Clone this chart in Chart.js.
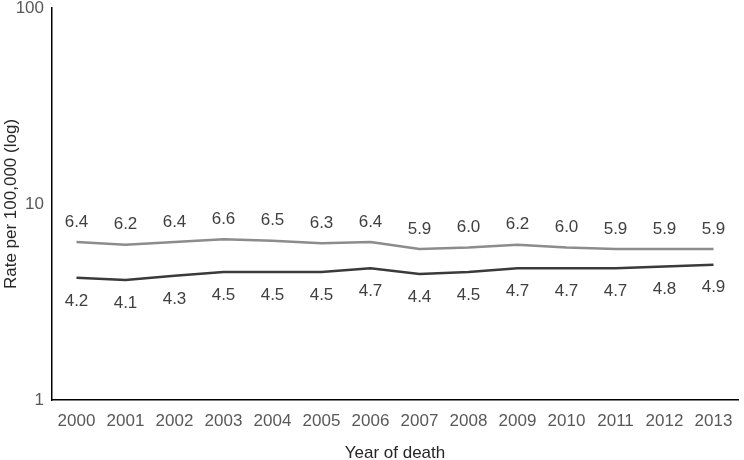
<!DOCTYPE html>
<html>
<head>
<meta charset="utf-8">
<script src="https://cdn.jsdelivr.net/npm/chart.js@4"></script>
<style>
  html, body { margin: 0; padding: 0; background: #fff; }
  #wrap { width: 744px; height: 460px; }
</style>
</head>
<body>
<div id="wrap"><canvas id="rateChart"></canvas></div>
<script>
// -------------------- DATA --------------------
const years = ["2000", "2001", "2002", "2003", "2004", "2005", "2006",
               "2007", "2008", "2009", "2010", "2011", "2012", "2013"];
const upperRates = [6.4, 6.2, 6.4, 6.6, 6.5, 6.3, 6.4, 5.9, 6.0, 6.2, 6.0, 5.9, 5.9, 5.9];
const lowerRates = [4.2, 4.1, 4.3, 4.5, 4.5, 4.5, 4.7, 4.4, 4.5, 4.7, 4.7, 4.7, 4.8, 4.9];
const yTicks = [1, 10, 100];

const FONT = "'Liberation Sans', Arial, sans-serif";

// -------------------- LABEL PLUGIN --------------------
// writes each value above the upper line and below the lower line
const valueLabels = {
  id: "valueLabels",
  afterDatasetsDraw(chart) {
    const ctx = chart.ctx;
    ctx.save();
    ctx.font = "17px " + FONT;
    ctx.fillStyle = "#404040";
    ctx.textAlign = "center";
    ctx.textBaseline = "middle";
    chart.data.datasets.forEach((ds, i) => {
      const meta = chart.getDatasetMeta(i);
      meta.data.forEach((pt, j) => {
        const dy = ds.labelPos === "above" ? -20 : 23;
        ctx.fillText(ds.data[j].toFixed(1), pt.x, pt.y + dy);
      });
    });
    ctx.restore();
  }
};

// -------------------- CHART --------------------
const ctx = document.getElementById("rateChart").getContext("2d");

new Chart(ctx, {
  type: "line",
  data: {
    labels: years,
    datasets: [
      {
        data: upperRates,
        borderColor: "#8c8c8c",
        borderWidth: 2.5,
        pointRadius: 0,
        tension: 0,
        labelPos: "above"
      },
      {
        data: lowerRates,
        borderColor: "#3a3a3a",
        borderWidth: 2.5,
        pointRadius: 0,
        tension: 0,
        labelPos: "below"
      }
    ]
  },
  options: {
    responsive: true,
    maintainAspectRatio: false,
    animation: false,
    layout: { padding: { top: 0, right: 6, left: 0, bottom: 0 } },
    plugins: {
      legend: { display: false },
      tooltip: { enabled: false }
    },
    scales: {
      x: {
        offset: true,
        grid: { display: false, drawTicks: false },
        border: { display: true, color: "#000", width: 1.5 },
        ticks: {
          color: "#595959",
          padding: 11,
          maxRotation: 0,
          font: { family: FONT, size: 17 }
        },
        title: {
          display: true,
          text: "Year of death",
          color: "#262626",
          padding: { top: 0, bottom: -4 },
          font: { family: FONT, size: 17 }
        },
        afterFit: (scale) => { scale.height = 60; }
      },
      y: {
        type: "logarithmic",
        min: 1,
        max: 100,
        grid: { display: false, drawTicks: false },
        border: { display: true, color: "#000", width: 1.5 },
        afterBuildTicks: (scale) => {
          scale.ticks = yTicks.map((v) => ({ value: v }));
        },
        ticks: {
          color: "#595959",
          padding: 8,
          font: { family: FONT, size: 17 },
          callback: (value) => String(value)
        },
        title: {
          display: true,
          text: "Rate per 100,000 (log)",
          color: "#262626",
          padding: { top: 1, bottom: 0 },
          font: { family: FONT, size: 17 }
        },
        afterFit: (scale) => {
          scale.width = 52;
          scale.paddingTop = 8;
        }
      }
    }
  },
  plugins: [valueLabels]
});
</script>
</body>
</html>
